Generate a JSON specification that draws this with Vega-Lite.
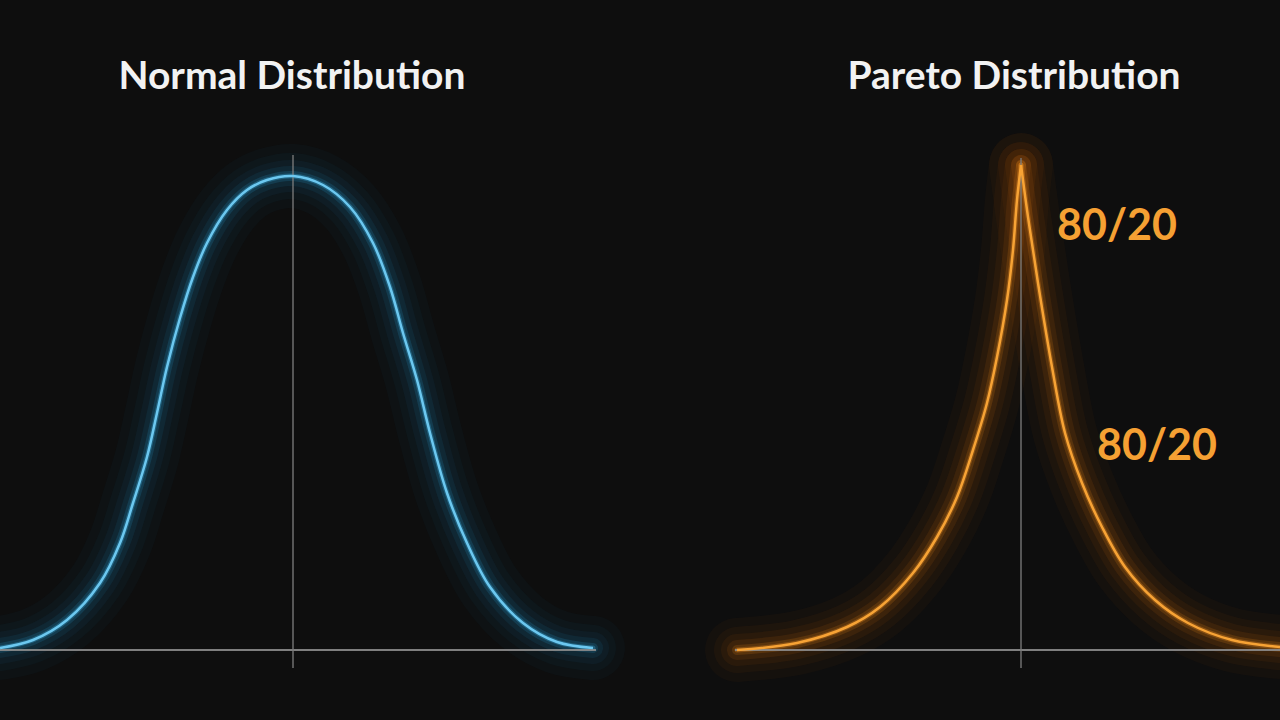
{
  "$schema": "https://vega.github.io/schema/vega-lite/v6.json",
  "width": 1280,
  "height": 720,
  "autosize": {"type": "none"},
  "padding": 0,
  "background": "#0e0e0e",
  "config": {"view": {"stroke": null}},
  "datasets": {
    "normal": [
      {"x": 0, "y": 0.4}, {"x": 3.3, "y": 2}, {"x": 6.7, "y": 6}, {"x": 10, "y": 13.4},
      {"x": 12, "y": 21.4}, {"x": 13.3, "y": 29.4}, {"x": 14.7, "y": 38.6}, {"x": 15.7, "y": 47.4},
      {"x": 16.7, "y": 56.6}, {"x": 18, "y": 66.4}, {"x": 19.3, "y": 74.6}, {"x": 20.7, "y": 81.4},
      {"x": 22.7, "y": 88}, {"x": 24.7, "y": 92}, {"x": 26.7, "y": 94}, {"x": 29.3, "y": 94.8},
      {"x": 32.3, "y": 93}, {"x": 35, "y": 88.6}, {"x": 37.3, "y": 81.4}, {"x": 39, "y": 72.6},
      {"x": 40.3, "y": 63.4}, {"x": 41.7, "y": 54}, {"x": 43, "y": 43.4}, {"x": 44.7, "y": 31.4},
      {"x": 46.7, "y": 21.4}, {"x": 49, "y": 12.6}, {"x": 52.3, "y": 5.4}, {"x": 55.7, "y": 1.6},
      {"x": 59.3, "y": 0.4}
    ],
    "pareto": [
      {"x": 73.7, "y": 0, "side": "left"}, {"x": 79.7, "y": 1.4, "side": "left"}, {"x": 84.7, "y": 4.6, "side": "left"},
      {"x": 88, "y": 8.6, "side": "left"}, {"x": 91.3, "y": 15.4, "side": "left"}, {"x": 93.7, "y": 22.6, "side": "left"},
      {"x": 95.7, "y": 30.6, "side": "left"}, {"x": 97.3, "y": 40, "side": "left"}, {"x": 98.7, "y": 49.4, "side": "left"},
      {"x": 99.7, "y": 58.6, "side": "left"}, {"x": 100.7, "y": 70, "side": "left"}, {"x": 101.3, "y": 80, "side": "left"},
      {"x": 101.7, "y": 90, "side": "left"}, {"x": 102.1, "y": 97, "side": "left"},
      {"x": 102.1, "y": 97, "side": "right"}, {"x": 102.8, "y": 86.6, "side": "right"}, {"x": 103.8, "y": 73.4, "side": "right"},
      {"x": 105.2, "y": 56.6, "side": "right"}, {"x": 106.5, "y": 43.4, "side": "right"}, {"x": 108.2, "y": 33.4, "side": "right"},
      {"x": 110.2, "y": 24.6, "side": "right"}, {"x": 112.5, "y": 16.6, "side": "right"}, {"x": 115.5, "y": 10, "side": "right"},
      {"x": 118.8, "y": 5.4, "side": "right"}, {"x": 123.2, "y": 2, "side": "right"}, {"x": 128, "y": 0.6, "side": "right"}
    ],
    "vrules": [
      {"x": 29.3, "y": -3.6, "y2": 99},
      {"x": 102.1, "y": -3.6, "y2": 98.4}
    ],
    "hrules": [
      {"x": 0, "x2": 59.6, "y": 0},
      {"x": 73.5, "x2": 128, "y": 0}
    ],
    "titles": [
      {"x": 29.2, "y": 114.6, "label": "Normal Distribution"},
      {"x": 101.4, "y": 114.6, "label": "Pareto Distribution"}
    ],
    "notes": [
      {"x": 111.7, "y": 84.6, "label": "80/20"},
      {"x": 115.7, "y": 40.6, "label": "80/20"}
    ]
  },
  "layer": [
    {"data": {"name": "normal"}, "mark": {"type": "line", "interpolate": "catmull-rom", "stroke": "#1a8cc4", "strokeWidth": 64, "opacity": 0.035, "strokeCap": "round", "strokeJoin": "round"},
     "encoding": {"x": {"field": "x", "type": "quantitative", "scale": {"domain": [0, 128], "nice": false, "zero": false}, "axis": null},
                  "y": {"field": "y", "type": "quantitative", "scale": {"domain": [-14, 130], "nice": false, "zero": false}, "axis": null}}},
    {"data": {"name": "normal"}, "mark": {"type": "line", "interpolate": "catmull-rom", "stroke": "#1a8cc4", "strokeWidth": 46, "opacity": 0.045, "strokeCap": "round", "strokeJoin": "round"},
     "encoding": {"x": {"field": "x", "type": "quantitative"}, "y": {"field": "y", "type": "quantitative"}}},
    {"data": {"name": "normal"}, "mark": {"type": "line", "interpolate": "catmull-rom", "stroke": "#1a8cc4", "strokeWidth": 32, "opacity": 0.06, "strokeCap": "round", "strokeJoin": "round"},
     "encoding": {"x": {"field": "x", "type": "quantitative"}, "y": {"field": "y", "type": "quantitative"}}},
    {"data": {"name": "normal"}, "mark": {"type": "line", "interpolate": "catmull-rom", "stroke": "#1f9bd4", "strokeWidth": 20, "opacity": 0.09, "strokeCap": "round", "strokeJoin": "round"},
     "encoding": {"x": {"field": "x", "type": "quantitative"}, "y": {"field": "y", "type": "quantitative"}}},
    {"data": {"name": "normal"}, "mark": {"type": "line", "interpolate": "catmull-rom", "stroke": "#2aa8de", "strokeWidth": 10, "opacity": 0.16, "strokeCap": "round", "strokeJoin": "round"},
     "encoding": {"x": {"field": "x", "type": "quantitative"}, "y": {"field": "y", "type": "quantitative"}}},
    {"data": {"name": "normal"}, "mark": {"type": "line", "interpolate": "catmull-rom", "stroke": "#3ab4e6", "strokeWidth": 5, "opacity": 0.3, "strokeCap": "round", "strokeJoin": "round"},
     "encoding": {"x": {"field": "x", "type": "quantitative"}, "y": {"field": "y", "type": "quantitative"}}},
    {"data": {"name": "pareto"}, "mark": {"type": "line", "interpolate": "catmull-rom", "stroke": "#d86a00", "strokeWidth": 64, "opacity": 0.04, "strokeCap": "round", "strokeJoin": "round"},
     "encoding": {"x": {"field": "x", "type": "quantitative"}, "y": {"field": "y", "type": "quantitative"}, "detail": {"field": "side"}}},
    {"data": {"name": "pareto"}, "mark": {"type": "line", "interpolate": "catmull-rom", "stroke": "#d86a00", "strokeWidth": 46, "opacity": 0.05, "strokeCap": "round", "strokeJoin": "round"},
     "encoding": {"x": {"field": "x", "type": "quantitative"}, "y": {"field": "y", "type": "quantitative"}, "detail": {"field": "side"}}},
    {"data": {"name": "pareto"}, "mark": {"type": "line", "interpolate": "catmull-rom", "stroke": "#d86a00", "strokeWidth": 32, "opacity": 0.065, "strokeCap": "round", "strokeJoin": "round"},
     "encoding": {"x": {"field": "x", "type": "quantitative"}, "y": {"field": "y", "type": "quantitative"}, "detail": {"field": "side"}}},
    {"data": {"name": "pareto"}, "mark": {"type": "line", "interpolate": "catmull-rom", "stroke": "#e07a10", "strokeWidth": 20, "opacity": 0.1, "strokeCap": "round", "strokeJoin": "round"},
     "encoding": {"x": {"field": "x", "type": "quantitative"}, "y": {"field": "y", "type": "quantitative"}, "detail": {"field": "side"}}},
    {"data": {"name": "pareto"}, "mark": {"type": "line", "interpolate": "catmull-rom", "stroke": "#ee8a1a", "strokeWidth": 10, "opacity": 0.17, "strokeCap": "round", "strokeJoin": "round"},
     "encoding": {"x": {"field": "x", "type": "quantitative"}, "y": {"field": "y", "type": "quantitative"}, "detail": {"field": "side"}}},
    {"data": {"name": "pareto"}, "mark": {"type": "line", "interpolate": "catmull-rom", "stroke": "#f09020", "strokeWidth": 5, "opacity": 0.3, "strokeCap": "round", "strokeJoin": "round"},
     "encoding": {"x": {"field": "x", "type": "quantitative"}, "y": {"field": "y", "type": "quantitative"}, "detail": {"field": "side"}}},
    {"data": {"name": "hrules"}, "mark": {"type": "rule", "stroke": "#8c8c8c", "strokeWidth": 2, "opacity": 0.9},
     "encoding": {"x": {"field": "x", "type": "quantitative"}, "x2": {"field": "x2"}, "y": {"field": "y", "type": "quantitative"}}},
    {"data": {"name": "vrules"}, "mark": {"type": "rule", "stroke": "#7a7a7a", "strokeWidth": 1.5, "opacity": 0.9},
     "encoding": {"x": {"field": "x", "type": "quantitative"}, "y": {"field": "y", "type": "quantitative"}, "y2": {"field": "y2"}}},
    {"data": {"name": "normal"}, "mark": {"type": "line", "interpolate": "catmull-rom", "stroke": "#6cc8f0", "strokeWidth": 2.5},
     "encoding": {"x": {"field": "x", "type": "quantitative"}, "y": {"field": "y", "type": "quantitative"}}},
    {"data": {"name": "pareto"}, "mark": {"type": "line", "interpolate": "catmull-rom", "stroke": "#f7a335", "strokeWidth": 2.5},
     "encoding": {"x": {"field": "x", "type": "quantitative"}, "y": {"field": "y", "type": "quantitative"}, "detail": {"field": "side"}}},
    {"data": {"name": "titles"}, "mark": {"type": "text", "font": "Lato", "fontSize": 39, "fontWeight": "bold", "fill": "#f2f2f2", "align": "center", "baseline": "middle"},
     "encoding": {"x": {"field": "x", "type": "quantitative"}, "y": {"field": "y", "type": "quantitative"}, "text": {"field": "label"}}},
    {"data": {"name": "notes"}, "mark": {"type": "text", "font": "Lato", "fontSize": 43, "fontWeight": "bold", "fill": "#f5a033", "align": "center", "baseline": "middle"},
     "encoding": {"x": {"field": "x", "type": "quantitative"}, "y": {"field": "y", "type": "quantitative"}, "text": {"field": "label"}}}
  ]
}
